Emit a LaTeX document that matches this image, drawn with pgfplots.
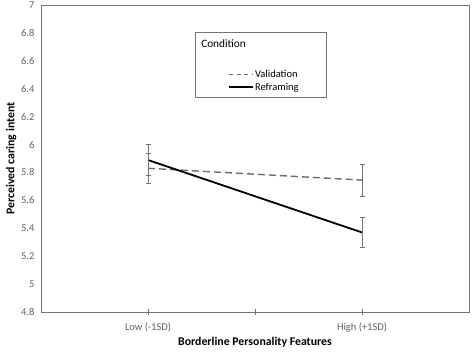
\documentclass[border=0pt]{standalone}
\usepackage{pgfplots}
\pgfplotsset{compat=1.18}
\usepackage{fontspec}
\setmainfont{Carlito}
\definecolor{tickgray}{gray}{0.38}
\definecolor{axgray}{gray}{0.45}
\definecolor{dashgray}{gray}{0.42}
\begin{document}
\begin{tikzpicture}[x=1pt,y=1pt]
\path[use as bounding box] (0,0) rectangle (474,364);
\begin{axis}[
  at={(41pt,52pt)}, anchor=south west,
  scale only axis, width=428pt, height=307pt,
  xmin=0, xmax=2, ymin=4.8, ymax=7,
  xtick={0.5,1,1.5}, xticklabels={Low (-1SD),,High (+1SD)},
  ytick={4.8,5,5.2,5.4,5.6,5.8,6,6.2,6.4,6.6,6.8,7},
  yticklabels={4.8,5,5.2,5.4,5.6,5.8,6,6.2,6.4,6.6,6.8,7},
  /pgf/number format/assume math mode=true,
  axis line style={axgray, line width=0.9pt},
  tick style={axgray, line width=0.8pt},
  xtick pos=bottom, ytick pos=left,
  major tick length=6pt,
  tick align=center,
  y tick style={draw=none},
  ticklabel style={font=\fontsize{10.5}{12}\selectfont, text=tickgray},
  xticklabel style={yshift=-4pt},
  yticklabel style={xshift=0pt},
  xlabel={\textbf{Borderline Personality Features}},
  ylabel={\textbf{Perceived caring intent}},
  xlabel style={font=\fontsize{11.8}{13}\selectfont, at={(0.5,0)}, yshift=-22pt},
  ylabel style={font=\fontsize{11.8}{13}\selectfont, yshift=-2pt},
  legend style={draw=none, fill=none, inner sep=0pt, row sep=2pt,
    font=\fontsize{10.5}{12}\selectfont,
    at={(0.437,0.7525)}, anchor=west,
    nodes={inner sep=1pt}},
  legend cell align=left,
  legend image code/.code={\draw[#1] (0pt,0pt) -- (24pt,0pt);},
  clip=false,
]
\draw[axgray, line width=0.9pt] (rel axis cs:0.36,0.909) rectangle (rel axis cs:0.666,0.700);
\node[anchor=west, font=\fontsize{11.3}{13}\selectfont, inner sep=0pt] at (rel axis cs:0.374,0.873) {Condition};
\addplot[dashgray, line width=1.4pt, dash pattern=on 7pt off 4pt,
  legend image post style={dash pattern=on 4pt off 3.5pt, line width=1.1pt},
  error bars/.cd, y dir=both, y explicit,
  error bar style={solid, line width=0.7pt, axgray},
  error mark options={rotate=90, mark size=2.5pt, line width=0.7pt, axgray}]
  coordinates {(0.5,5.83) +- (0,0.11) (1.5,5.745) +- (0,0.113)};
\addlegendentry{Validation}
\addplot[black, line width=1.8pt,
  error bars/.cd, y dir=both, y explicit,
  error bar style={solid, line width=0.7pt, axgray},
  error mark options={rotate=90, mark size=2.5pt, line width=0.7pt, axgray}]
  coordinates {(0.5,5.889) +- (0,0.11) (1.5,5.37) +- (0,0.11)};
\addlegendentry{Reframing}
\end{axis}
\end{tikzpicture}
\end{document}
